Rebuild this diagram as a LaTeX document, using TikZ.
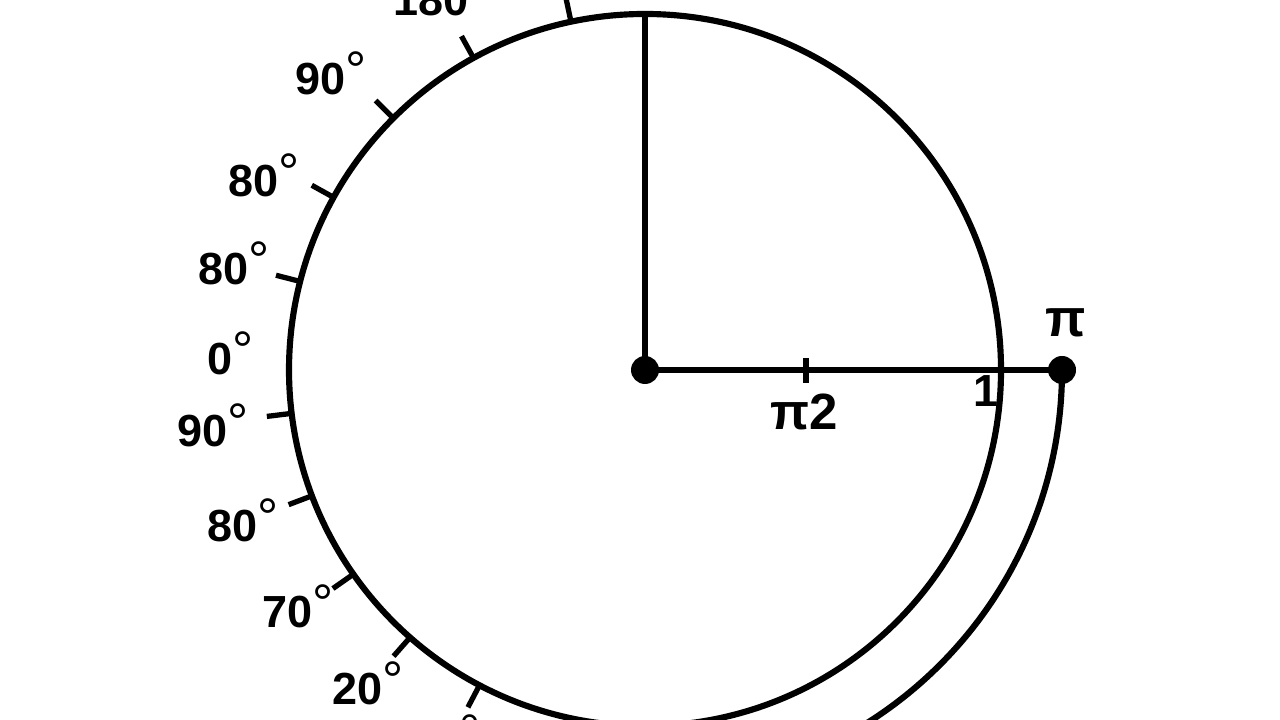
\documentclass[tikz,border=0pt]{standalone}
\usepackage{fontspec}
\setmainfont{Liberation Sans}
\usetikzlibrary{positioning, calc}
\tikzset{
        dial line/.style={line width=1.75pt}, % circle, radii and arc
        tick mark/.style={line width=1.5pt},
        dot/.style={circle, fill=black, inner sep=0pt, minimum size=0.28cm},
        deg label/.style={anchor=base west, inner sep=0pt,
                font=\bfseries\fontsize{12.8}{15}\selectfont},
    }
\newcommand{\dg}{\raisebox{0.14em}{\mdseries\fontsize{15}{15}\selectfont °}}

\begin{document}
\begin{tikzpicture}
    \useasboundingbox (0,0) rectangle (12.8,7.2);
    \clip (0,0) rectangle (12.8,7.2);
    \coordinate (O) at (6.45,3.50);
    % the unit circle
    \draw[dial line] (O) circle (3.56);
    \coordinate (top) at ($(O)+(0,3.56)$);
    \node[dot] (centre) at (O) {};
    \node[dot] (tip) at ($(O)+(4.17,0)$) {};
    \draw[dial line] (centre.center) -- (top);
    \draw[dial line] (centre.center) -- (tip.center);
    \draw[dial line] (tip.center) arc (0:-90:4.17);
    % mark on the radius
    \coordinate (half) at ($(O)+(1.61,0)$);
    \draw[tick mark] ($(half)+(0,0.12)$) -- ($(half)+(0,-0.13)$);
    % ticks round the left side
    \foreach \a in {102,118.8,135,151,165.6,187,200.7,215,228.7,242.3}
        \draw[tick mark] ($(O)+(\a:3.56)$) -- ($(O)+(\a:3.81)$);
    % labels
    \node[deg label] (l180) at (3.93,7.04) {180};
    \node[deg label] (l90a) at (2.95,6.25) {90\dg};
    \node[deg label] (l80a) at (2.28,5.23) {80\dg};
    \node[deg label] (l80b) at (1.98,4.35) {80\dg};
    \node[deg label] (l0) at (2.07,3.45) {0\dg};
    \node[deg label] (l90b) at (1.77,2.73) {90\dg};
    \node[deg label] (l80c) at (2.07,1.78) {80\dg};
    \node[deg label] (l70) at (2.62,0.92) {70\dg};
    \node[deg label] (l20) at (3.32,0.15) {20\dg};
    \node[deg label] (l10) at (4.09,-0.38) {10\dg};
    \node[deg label] (halfpi) at (7.70,2.90) {\fontsize{14.5}{15}\selectfont π2};
    \node[deg label] (one) at (9.73,3.13) {1};
    \node[deg label] (pi) at (10.45,3.83) {\fontsize{15}{15}\selectfont π};
\end{tikzpicture}
\end{document}
